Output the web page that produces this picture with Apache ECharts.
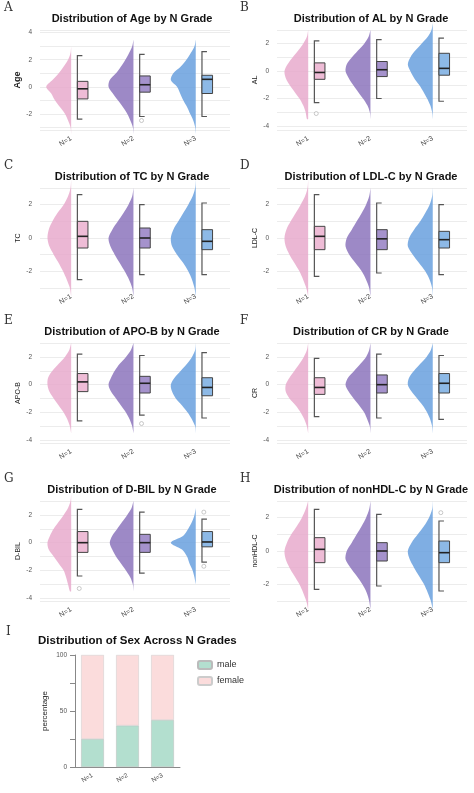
<!DOCTYPE html>
<html><head><meta charset="utf-8">
<script src="https://cdn.jsdelivr.net/npm/echarts@6/dist/echarts.min.js"></script>
<style>html,body{margin:0;padding:0;background:#fff}#c{width:474px;height:793px}</style>
</head><body><div id="c"></div>
<script>
// density grid y values
const densY = [-3.5,-3,-2.5,-2,-1.5,-1,-0.5,0,0.5,1,1.5,2,2.5,3,3.5];
const groups = ['N=1','N=2','N=3'];
const titles = ['Distribution of Age by N Grade','Distribution of AL by N Grade','Distribution of TC by N Grade','Distribution of LDL-C by N Grade','Distribution of APO-B by N Grade','Distribution of CR by N Grade','Distribution of D-BIL by N Grade','Distribution of nonHDL-C by N Grade'];
const yNames = ['Age','AL','TC','LDL-C','APO-B','CR','D-BIL','nonHDL-C'];
const yMin = [-3.2,-4.3,-3,-3,-4.2,-4.2,-4.2,-3];
const yMax = [4.2,3,3,3,3,3,3,3];
const yTicks = [[-2,0,2,4],[-4,-2,0,2],[-2,0,2],[-2,0,2],[-4,-2,0,2],[-4,-2,0,2],[-4,-2,0,2],[-2,0,2]];
// densities (widths) per panel, per group
const ageDens = [[0,0.01,0.05,0.1,0.18,0.26,0.32,0.4,0.3,0.2,0.12,0.05,0.01,0,0],[0,0.01,0.05,0.1,0.17,0.25,0.33,0.4,0.38,0.28,0.2,0.13,0.07,0.02,0],[0,0.01,0.04,0.09,0.14,0.2,0.25,0.3,0.4,0.36,0.24,0.15,0.08,0.02,0]];
const alDens = [[0.02,0.04,0.08,0.14,0.22,0.3,0.36,0.38,0.33,0.25,0.16,0.08,0.02,0,0],[0,0.01,0.05,0.12,0.2,0.28,0.35,0.4,0.38,0.3,0.2,0.1,0.03,0,0],[0,0.01,0.04,0.09,0.15,0.22,0.3,0.36,0.4,0.36,0.28,0.18,0.08,0.02,0]];
const tcDens = [[0,0.02,0.07,0.13,0.2,0.28,0.35,0.38,0.36,0.3,0.22,0.12,0.05,0.01,0],[0,0.02,0.07,0.14,0.22,0.3,0.37,0.4,0.34,0.25,0.16,0.08,0.02,0,0],[0,0.02,0.06,0.12,0.2,0.3,0.38,0.4,0.36,0.28,0.2,0.12,0.05,0.01,0]];
const ldlDens = [[0,0.03,0.08,0.14,0.22,0.3,0.36,0.38,0.35,0.28,0.2,0.12,0.05,0.01,0],[0,0.02,0.07,0.14,0.24,0.34,0.4,0.38,0.3,0.22,0.14,0.07,0.02,0,0],[0,0.01,0.05,0.12,0.22,0.32,0.4,0.38,0.3,0.2,0.12,0.05,0.01,0,0]];
const apoDens = [[0,0.02,0.06,0.12,0.2,0.28,0.35,0.38,0.37,0.3,0.2,0.1,0.03,0,0],[0,0.02,0.06,0.12,0.2,0.28,0.36,0.4,0.36,0.3,0.22,0.12,0.04,0,0],[0,0.01,0.06,0.13,0.22,0.32,0.38,0.4,0.34,0.24,0.14,0.06,0.01,0,0]];
const crDens = [[0,0.02,0.06,0.12,0.2,0.3,0.36,0.36,0.3,0.22,0.14,0.07,0.02,0,0],[0,0.01,0.05,0.1,0.18,0.27,0.35,0.4,0.36,0.26,0.16,0.07,0.02,0,0],[0,0.01,0.04,0.09,0.16,0.25,0.34,0.4,0.38,0.3,0.2,0.1,0.03,0,0]];
const dbilDens = [[0.02,0.05,0.08,0.12,0.2,0.28,0.36,0.38,0.34,0.28,0.2,0.12,0.05,0.01,0],[0,0.01,0.05,0.12,0.2,0.28,0.34,0.38,0.34,0.26,0.18,0.1,0.03,0,0],[0,0,0.02,0.05,0.1,0.14,0.22,0.4,0.2,0.12,0.06,0.02,0,0,0]];
const nonhdlDens = [[0,0.03,0.08,0.14,0.22,0.3,0.36,0.38,0.34,0.27,0.18,0.1,0.04,0,0],[0,0.02,0.06,0.13,0.22,0.32,0.4,0.38,0.3,0.22,0.14,0.07,0.02,0,0],[0,0.03,0.08,0.14,0.22,0.3,0.37,0.4,0.34,0.24,0.14,0.06,0.01,0,0]];
// box stats [low, q1, median, q3, high]
const ageBox = [[-2.4,-0.9,-0.15,0.4,2.3],[-2.2,-0.4,0.15,0.8,2.4],[-2.2,-0.5,0.55,0.85,2.6]];
const alBox = [[-2.3,-0.6,-0.1,0.6,2.2],[-2,-0.4,0.1,0.7,2.3],[-2.2,-0.3,0.2,1.3,2.4]];
const tcBox = [[-2.5,-0.6,0.1,1.0,2.6],[-2.2,-0.6,0,0.6,2],[-2.2,-0.7,-0.2,0.5,2.1]];
const ldlBox = [[-2.3,-0.7,0.1,0.7,2.6],[-2.1,-0.7,-0.05,0.5,2.1],[-2.2,-0.6,-0.1,0.4,2]];
const apoBox = [[-2.6,-0.5,0.2,0.8,2.2],[-2.2,-0.6,0.1,0.6,2.1],[-2.4,-0.8,-0.2,0.5,2.3]];
const crBox = [[-2.3,-0.7,-0.2,0.5,1.9],[-2.4,-0.6,0,0.7,2.2],[-2.5,-0.6,0.1,0.8,2.1]];
const dbilBox = [[-2.4,-0.7,0,0.8,2.4],[-2.2,-0.7,0,0.6,2.2],[-1.4,-0.3,0.05,0.8,1.7]];
const nonhdlBox = [[-2.3,-0.7,0.1,0.8,2.5],[-2.1,-0.6,0,0.5,2.2],[-2.4,-0.7,-0.1,0.6,1.8]];
// outliers [group, value]
const ageOut = [[2,-2.5]], alOut=[[1,-3.1]], tcOut=[], ldlOut=[], apoOut=[[2,-2.8]], crOut=[], dbilOut=[[1,-3.3],[3,2.2],[3,-1.7]], nonhdlOut=[[3,2.3]];
// sex panel
const sexMale = [25,37,42];
const sexFemale = [75,63,58];

const allDens=[ageDens,alDens,tcDens,ldlDens,apoDens,crDens,dbilDens,nonhdlDens];
const allBox=[ageBox,alBox,tcBox,ldlBox,apoBox,crBox,dbilBox,nonhdlBox];
const allOut=[ageOut,alOut,tcOut,ldlOut,apoOut,crOut,dbilOut,nonhdlOut];
const vColors=['rgba(232,170,205,0.85)','rgba(140,116,188,0.85)','rgba(105,160,222,0.85)'];
const bColors=['#eebcd6','#a592cc','#8db9e6'];

const chart=echarts.init(document.getElementById('c'));
const grids=[],xAxes=[],yAxes=[],series=[],titleArr=[],graphics=[];
const rowTop=[30,188,343,501];
const letters='ABCDEFGH';
for(let p=0;p<8;p++){
  const col=p%2,row=Math.floor(p/2);
  const left=col?277:40;
  grids.push({left:left,top:rowTop[row],width:190,height:100});
  titleArr.push({text:titles[p],left:left+95-(col?6:8),top:rowTop[row]-22,textAlign:'center',textStyle:{fontSize:11,fontWeight:'bold',color:'#111',fontFamily:'Liberation Sans, Arial'}});
  graphics.push({type:'text',left:col?240:4,top:rowTop[row]-28,style:{text:letters[p],font:'12px "DejaVu Serif", serif',fill:'#333'}});
  xAxes.push({type:'value',gridIndex:p,min:0.5,max:3.55,
    axisLine:{show:false},axisTick:{show:false},splitLine:{show:false},
    axisLabel:{rotate:30,fontSize:7,color:'#444',margin:8,customValues:[1,2,3],formatter:v=>groups[Math.round(v)-1]||''}});
  yAxes.push({type:'value',gridIndex:p,min:yMin[p],max:yMax[p],name:yNames[p],nameLocation:'middle',nameGap:18,nameRotate:90,
    nameTextStyle:{fontSize:p==0?9:7,color:'#222',fontWeight:p==0?'bold':'normal'},
    axisLine:{show:false},axisTick:{show:false},
    axisLabel:{fontSize:6.5,color:'#555',customValues:yTicks[p]},
    splitLine:{show:true,lineStyle:{color:'#ececec'}},
    splitNumber:6});
  const dens=allDens[p],box=allBox[p],out=allOut[p];
  series.push({type:'custom',xAxisIndex:p,yAxisIndex:p,data:[[1],[2],[3]],
    renderItem:(params,api)=>{
      const g=params.dataIndex,k=g+1,w=dens[g];
      const pts=[];
      let first=-1,last=-1;
      for(let i=0;i<w.length;i++){if(w[i]>0){if(first<0)first=i;last=i;}}
      const lo=Math.max(0,first-1),hi=Math.min(w.length-1,last+1);
      pts.push(api.coord([k,densY[lo]]));
      for(let i=lo;i<=hi;i++)pts.push(api.coord([k-w[i],densY[i]]));
      pts.push(api.coord([k,densY[hi]]));
      const b=box[g];
      const x0=api.coord([k+0.1,0])[0],x1=api.coord([k+0.27,0])[0],xc=api.coord([k+0.18,0])[0];
      const yy=v=>api.coord([k,v])[1];
      return {type:'group',children:[
        {type:'polygon',shape:{points:pts,smooth:0.3},style:{fill:vColors[g]}},
        {type:'polyline',shape:{points:[[xc,yy(b[4])],[x0,yy(b[4])],[x0,yy(b[0])],[xc,yy(b[0])]]},style:{stroke:'#555',lineWidth:1.2,fill:null}},
        {type:'rect',shape:{x:x0,y:yy(b[3]),width:x1-x0,height:yy(b[1])-yy(b[3])},style:{fill:bColors[g],stroke:'#444',lineWidth:1}},
        {type:'line',shape:{x1:x0,y1:yy(b[2]),x2:x1,y2:yy(b[2])},style:{stroke:'#222',lineWidth:1.6}}
      ]};
    }});
  series.push({type:'scatter',xAxisIndex:p,yAxisIndex:p,symbolSize:4,
    data:out.map(o=>[o[0]+0.13,o[1]]),itemStyle:{color:'#fff',borderColor:'#aaa',borderWidth:0.8}});
}
// sex panel
grids.push({left:75,top:655,width:105,height:112});
titleArr.push({text:'Distribution of Sex Across N Grades',left:33,top:630,textStyle:{fontSize:11.5,fontWeight:'bold',color:'#111'}});
graphics.push({type:'text',left:6,top:626,style:{text:'I',font:'12px "DejaVu Serif", serif',fill:'#333'}});
xAxes.push({type:'category',gridIndex:8,data:groups,axisLine:{lineStyle:{color:'#888'}},axisTick:{lineStyle:{color:'#888'}},axisLabel:{rotate:30,fontSize:6.5,color:'#444'}});
yAxes.push({type:'value',gridIndex:8,min:0,max:100,interval:25,name:'percentage',nameLocation:'middle',nameGap:26,nameTextStyle:{fontSize:8,color:'#222'},
  axisLine:{show:true,lineStyle:{color:'#888'}},axisTick:{show:true,lineStyle:{color:'#888'}},splitLine:{show:false},
  axisLabel:{fontSize:6.5,color:'#555',formatter:v=>(v%50===0?v:'')}});
series.push({name:'male',type:'bar',stack:'s',xAxisIndex:8,yAxisIndex:8,data:sexMale,barWidth:'65%',itemStyle:{color:'#b3dfcf',borderColor:'#bbb',borderWidth:0.5}});
series.push({name:'female',type:'bar',stack:'s',xAxisIndex:8,yAxisIndex:8,data:sexFemale,itemStyle:{color:'#fbdcdc',borderColor:'#ccc',borderWidth:0.5}});

chart.setOption({backgroundColor:'#fff',animation:false,title:titleArr,grid:grids,xAxis:xAxes,yAxis:yAxes,series:series,graphic:graphics,
  legend:{data:['male','female'],orient:'vertical',left:192,top:655,itemWidth:14,itemHeight:8,itemGap:6,textStyle:{fontSize:9,color:'#333'}}});
</script></body></html>
